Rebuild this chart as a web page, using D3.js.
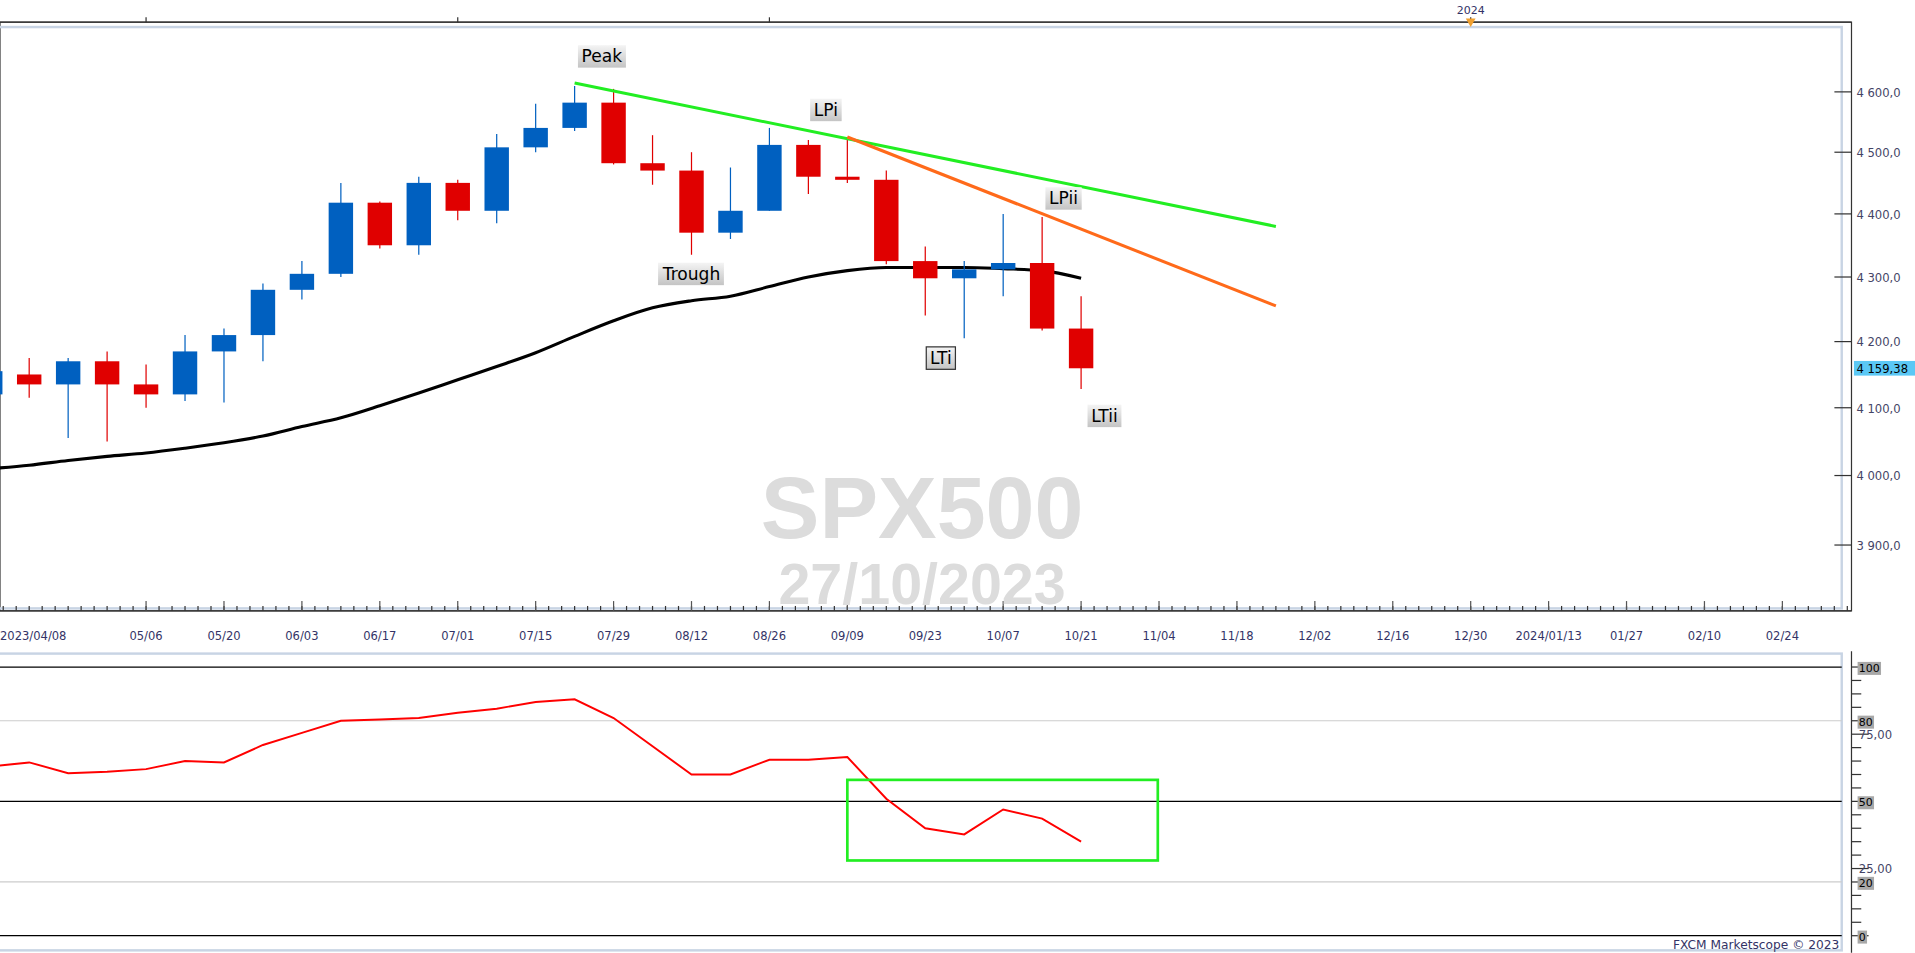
<!DOCTYPE html>
<html><head><meta charset="utf-8">
<script src="https://cdn.jsdelivr.net/npm/d3@7"></script>
<style>body{margin:0;background:#fff;}svg{display:block;}</style></head>
<body><svg id="c" width="1915" height="953" viewBox="0 0 1568 780"></svg>
<script>
const weeks = ["04/08","04/15","04/22","04/29","05/06","05/13","05/20","05/27","06/03","06/10","06/17","06/24","07/01","07/08","07/15","07/22","07/29","08/05","08/12","08/19","08/26","09/02","09/09","09/16","09/23","09/30","10/07","10/14","10/21"];
const open  = [4120,4150,4135,4170,4135,4120,4185,4210,4280,4305,4418,4350,4450,4405,4508,4540,4582,4482,4470,4370,4405,4512,4460,4455,4325,4298,4312,4322,4220];
const high  = [4165,4175,4175,4185,4165,4210,4220,4290,4325,4450,4420,4460,4455,4530,4580,4610,4605,4528,4500,4475,4540,4520,4525,4470,4348,4325,4400,4395,4270];
const low   = [4110,4115,4055,4050,4100,4110,4108,4170,4265,4300,4345,4335,4390,4385,4500,4535,4480,4447,4335,4360,4405,4432,4450,4320,4240,4205,4270,4217,4128];
const close = [4155,4135,4170,4135,4120,4185,4210,4280,4305,4418,4350,4450,4405,4508,4540,4582,4482,4470,4370,4405,4512,4460,4455,4325,4298,4312,4322,4220,4159.38];
const ma    = [4010,4015,4022,4028,4033,4040,4048,4058,4072,4085,4103,4122,4142,4162,4183,4208,4232,4252,4263,4270,4285,4300,4310,4315,4315,4315,4313,4310,4298];
const rsi   = [63,64.5,60.5,61,62,65,64.5,71,75.5,80,80.5,81,83,84.5,87,88,81,70.5,60,60,65.5,65.5,66.5,51,40,37.7,47,43.6,35];
const tickLabels = [[0,"2023/04/08"],[4,"05/06"],[6,"05/20"],[8,"06/03"],[10,"06/17"],[12,"07/01"],[14,"07/15"],[16,"07/29"],[18,"08/12"],[20,"08/26"],[22,"09/09"],[24,"09/23"],[26,"10/07"],[28,"10/21"],[30,"11/04"],[32,"11/18"],[34,"12/02"],[36,"12/16"],[38,"12/30"],[40,"2024/01/13"],[42,"01/27"],[44,"02/10"],[46,"02/24"]];
const priceTicks = [3900,4000,4100,4200,4300,4400,4500,4600];
const greenLine = [[15,4615],[33,4380]];
const orangeLine = [[22,4525],[33,4255]];
const notes = [[15.7,4660,"Peak"],[21.45,4570,"LPi"],[27.55,4425,"LPii"],[18,4305,"Trough"],[24.4,4175,"LTi"],[28.6,4088,"LTii"]];
const rsiLevels = [[100,"#000"],[80,"#ccc"],[50,"#000"],[20,"#ccc"],[0,"#000"]];

const svg = d3.select("#c");
const x = d3.scaleLinear().domain([0,1]).range([-8,23.9]);
const y = d3.scaleLog().domain([3811,4689]).range([498,32]);
const yr = d3.scaleLinear().domain([0,100]).range([766,546]);
const F = "Verdana, 'DejaVu Sans', sans-serif";

svg.append("rect").attr("x",0).attr("y",18).attr("width",1516).attr("height",482).attr("fill","none").attr("stroke","#333");
svg.append("rect").attr("x",-2).attr("y",22).attr("width",1510).attr("height",476).attr("fill","none").attr("stroke","#c8d4e4").attr("stroke-width",2);
svg.append("rect").attr("x",-2).attr("y",535).attr("width",1510).attr("height",243).attr("fill","none").attr("stroke","#c8d4e4").attr("stroke-width",2);
svg.append("line").attr("x1",1516).attr("x2",1516).attr("y1",533).attr("y2",780).attr("stroke","#333");
svg.append("line").attr("x1",0).attr("x2",1516).attr("y1",18).attr("y2",18).attr("stroke","#333");
[4,12,20,38].forEach(i=>svg.append("line").attr("x1",x(i)).attr("x2",x(i)).attr("y1",14).attr("y2",18).attr("stroke","#333"));
svg.append("text").attr("x",x(38)).attr("y",11).attr("text-anchor","middle").attr("font-family",F).attr("font-size",9).attr("fill","#336").text("2024");
svg.append("path").attr("d",`M${x(38)-4},15L${x(38)+4},15L${x(38)},22Z`).attr("fill","#f0a030");

priceTicks.forEach(p=>{
  svg.append("line").attr("x1",1502).attr("x2",1516).attr("y1",y(p)).attr("y2",y(p)).attr("stroke","#333");
  svg.append("text").attr("x",1520).attr("y",y(p)+4).attr("font-family",F).attr("font-size",9.5).attr("fill","#446").text(d3.format(",.1f")(p).replace(/,/g," ").replace(".",","));
});
const last = close[close.length-1];
svg.append("rect").attr("x",1518).attr("y",y(last)-6).attr("width",50).attr("height",12).attr("fill","#5bc8f5");
svg.append("text").attr("x",1520).attr("y",y(last)+4).attr("font-family",F).attr("font-size",9.5).attr("fill","#000").text("4 159,38");

svg.append("line").attr("x1",0).attr("x2",1516).attr("y1",500).attr("y2",500).attr("stroke","#333");
for(let k=-1;k<=48;k++){ for(let s=0;s<3;s++){ const xx=x(k)+s*31.9/3; if(xx>0&&xx<1516) svg.append("line").attr("x1",xx).attr("x2",xx).attr("y1",500).attr("y2",496).attr("stroke","#333");}}
tickLabels.forEach(([i,t])=>{
  svg.append("line").attr("x1",x(i)).attr("x2",x(i)).attr("y1",500).attr("y2",492).attr("stroke","#555");
  svg.append("text").attr("x",i===0?0:x(i)).attr("y",524).attr("text-anchor",i===0?"start":"middle").attr("font-family","'Liberation Sans Narrow','DejaVu Sans Condensed',sans-serif").attr("font-size",10.5).attr("fill","#336").text(t);
});

svg.append("text").attr("x",755).attr("y",440).attr("text-anchor","middle").attr("font-family","Arial, 'Liberation Sans'").attr("font-weight","bold").attr("font-size",72).attr("fill","#dcdcdc").text("SPX500");
svg.append("text").attr("x",755).attr("y",494).attr("text-anchor","middle").attr("font-family","Arial, 'Liberation Sans'").attr("font-weight","bold").attr("font-size",47).attr("fill","#dcdcdc").text("27/10/2023");

svg.append("path").datum(ma).attr("d",d3.line().x((d,i)=>x(i)).y(d=>y(d)).curve(d3.curveMonotoneX)).attr("fill","none").attr("stroke","#000").attr("stroke-width",2.5);

const g = svg.append("g");
weeks.forEach((w,i)=>{
  const up = close[i]>=open[i], col = up?"#0060c0":"#e00000";
  g.append("line").attr("x1",x(i)).attr("x2",x(i)).attr("y1",y(high[i])).attr("y2",y(low[i])).attr("stroke",col);
  const t=y(Math.max(open[i],close[i])), b=y(Math.min(open[i],close[i]));
  g.append("rect").attr("x",x(i)-10).attr("width",20).attr("y",t).attr("height",Math.max(2,b-t)).attr("fill",col);
});
[[greenLine,"#22ee22"],[orangeLine,"#ff6a1a"]].forEach(([l,c])=>svg.append("line").attr("x1",x(l[0][0])).attr("y1",y(l[0][1])).attr("x2",x(l[1][0])).attr("y2",y(l[1][1])).attr("stroke",c).attr("stroke-width",2.5));

const defs=svg.append("defs"); const gr=defs.append("linearGradient").attr("id","gb").attr("x1",0).attr("y1",0).attr("x2",0).attr("y2",1);
gr.append("stop").attr("offset",0).attr("stop-color","#f4f4f4"); gr.append("stop").attr("offset",1).attr("stop-color","#c4c4c4");
notes.forEach(([i,p,t])=>{
  const tx=svg.append("text").attr("x",x(i)).attr("y",y(p)+5).attr("text-anchor","middle").attr("font-family",F).attr("font-size",14).attr("fill","#000").text(t);
  const bb=tx.node().getBBox();
  svg.insert("rect","text:last-child").attr("x",bb.x-3).attr("y",bb.y-1).attr("width",bb.width+6).attr("height",bb.height+2).attr("fill","url(#gb)").attr("stroke",t==="LTi"?"#333":"none");
  tx.raise();
});

rsiLevels.forEach(([v,c])=>svg.append("line").attr("x1",0).attr("x2",1508).attr("y1",yr(v)).attr("y2",yr(v)).attr("stroke",c));
for(let v=0;v<=100;v+=5) svg.append("line").attr("x1",1516).attr("x2",v%25===0?1530:1524).attr("y1",yr(v)).attr("y2",yr(v)).attr("stroke","#333");
[[100,"100"],[80,"80"],[50,"50"],[20,"20"],[0,"0"]].forEach(([v,t])=>{
  const tx=svg.append("text").attr("x",1522).attr("y",yr(v)+4).attr("font-family",F).attr("font-size",9).attr("fill","#000").text(t);
  const bb=tx.node().getBBox(); svg.insert("rect","text:last-child").attr("x",bb.x-1).attr("y",bb.y).attr("width",bb.width+2).attr("height",bb.height).attr("fill","#a8a8a8"); tx.raise();
});
[[75,"75,00"],[25,"25,00"]].forEach(([v,t])=>svg.append("text").attr("x",1522).attr("y",yr(v)+4).attr("font-family",F).attr("font-size",9.5).attr("fill","#446").text(t));
svg.append("path").datum(rsi).attr("d",d3.line().x((d,i)=>x(i)).y(d=>yr(d))).attr("fill","none").attr("stroke","#ff0000").attr("stroke-width",1.6);
svg.append("rect").attr("x",x(22)).attr("y",yr(58)).attr("width",x(30)-x(22)-1).attr("height",yr(28)-yr(58)).attr("fill","none").attr("stroke","#22ee22").attr("stroke-width",2.2);
svg.append("text").attr("x",1506).attr("y",777).attr("text-anchor","end").attr("font-family",F).attr("font-size",10).attr("fill","#336").text("FXCM Marketscope © 2023");
</script></body></html>
